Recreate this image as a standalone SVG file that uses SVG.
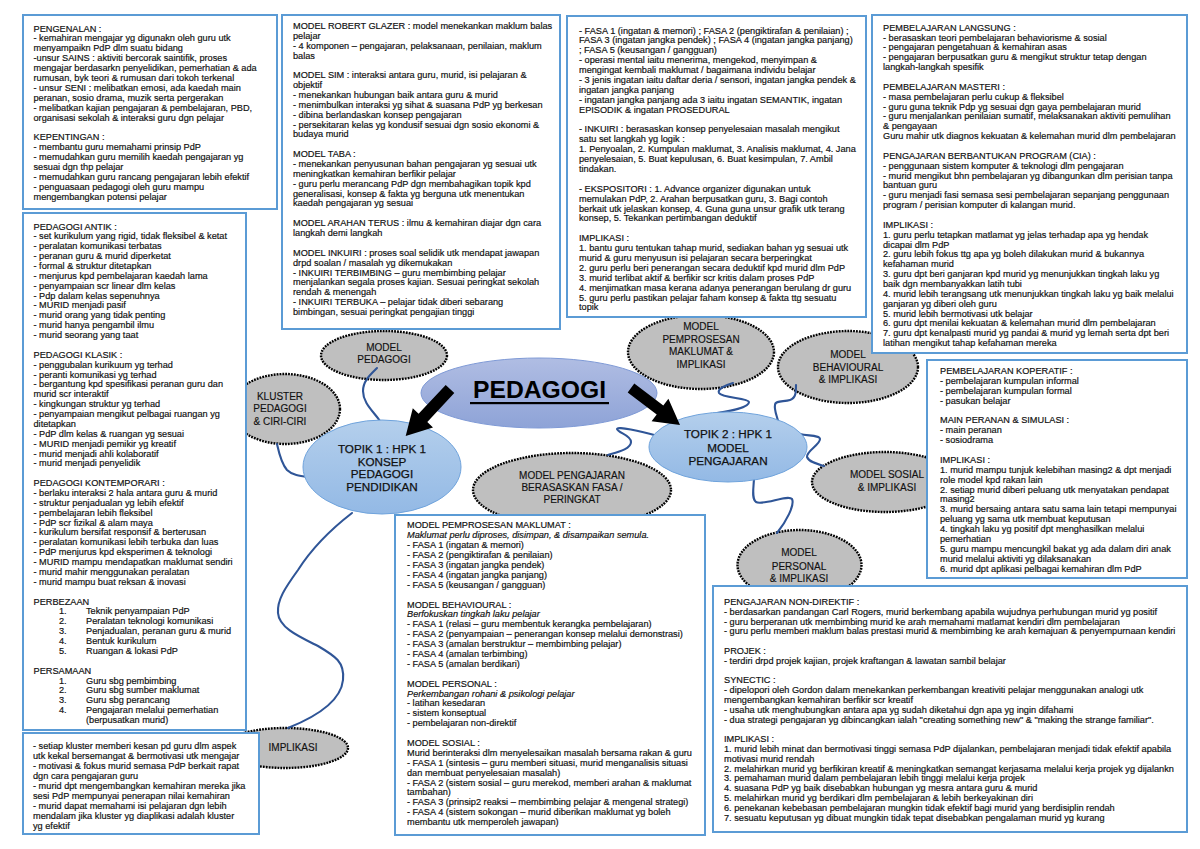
<svg xmlns="http://www.w3.org/2000/svg" width="1200" height="849" viewBox="0 0 1200 849">
<style>
text{font-family:"Liberation Sans",Arial,sans-serif;fill:#111}
.box{fill:#fff;stroke:#5b9bd5;stroke-width:2}
.t{font-size:9.2px;stroke:#111;stroke-width:.18}
.i{font-style:italic}
.m{fill:#bfbfbf;stroke:#000;stroke-width:2.4;stroke-dasharray:1.8 1.1}
.l{font-size:10px;text-anchor:middle;stroke:#111;stroke-width:.15}
.top{font-size:11.7px;text-anchor:middle;stroke:#111;stroke-width:.25}
.c{fill:none;stroke:#2f5597;stroke-width:2.1;stroke-linecap:round}
</style>
<defs>
<linearGradient id="g1" x1="0" y1="0" x2="0" y2="1"><stop offset="0" stop-color="#b0bde3"/><stop offset="1" stop-color="#8ea3d7"/></linearGradient>
<linearGradient id="g2" x1="0" y1="0" x2="0" y2="1"><stop offset="0" stop-color="#b4cfec"/><stop offset="1" stop-color="#93b9e5"/></linearGradient>
</defs>
<rect width="1200" height="849" fill="#fff"/>

<g id="node-kluster"><ellipse class="m" cx="285" cy="409" rx="55" ry="35"/><text class="l"><tspan x="280" y="400">KLUSTER</tspan><tspan x="280" y="412">PEDAGOGI</tspan><tspan x="280" y="425">&amp; CIRI-CIRI</tspan></text></g>
<g id="node-implikasi"><ellipse class="m" cx="285" cy="748" rx="63" ry="20"/><text class="l" x="293" y="751">IMPLIKASI</text></g>
<g id="node-model-pedagogi"><ellipse class="m" cx="384" cy="355.5" rx="63" ry="24.5"/><text class="l"><tspan x="384" y="351">MODEL</tspan><tspan x="384" y="363">PEDAGOGI</tspan></text></g>
<g id="node-pemprosesan"><ellipse class="m" cx="701" cy="352" rx="73" ry="37"/><text class="l"><tspan x="701" y="330">MODEL</tspan><tspan x="701" y="343">PEMPROSESAN</tspan><tspan x="701" y="355">MAKLUMAT &amp;</tspan><tspan x="701" y="368">IMPLIKASI</tspan></text></g>
<g id="node-behavioural"><ellipse class="m" cx="848" cy="367" rx="70" ry="36"/><text class="l"><tspan x="848" y="358">MODEL</tspan><tspan x="848" y="371">BEHAVIOURAL</tspan><tspan x="848" y="383">&amp; IMPLIKASI</tspan></text></g>
<g id="node-sosial"><ellipse class="m" cx="885" cy="482" rx="73" ry="30"/><text class="l"><tspan x="887" y="478">MODEL SOSIAL</tspan><tspan x="887" y="491">&amp; IMPLIKASI</tspan></text></g>
<g id="node-personal"><ellipse class="m" cx="799.5" cy="565" rx="62" ry="35"/><text class="l"><tspan x="799" y="556">MODEL</tspan><tspan x="799" y="570">PERSONAL</tspan><tspan x="799" y="582">&amp; IMPLIKASI</tspan></text></g>
<g id="node-pengajaran"><ellipse class="m" cx="572" cy="490" rx="99" ry="37"/><text class="l"><tspan x="572" y="479">MODEL PENGAJARAN</tspan><tspan x="572" y="491">BERASASKAN FASA /</tspan><tspan x="572" y="503">PERINGKAT</tspan></text></g>

<g id="connectors">
<path class="c" d="M377 368C370 375 363 381 363 391C363 403 373 411 380 421"/>
<path class="c" d="M277 444C279 453 281 463 287 470C292 475 300 476 308 477"/>
<path class="c" d="M352 513C330 530 312 548 298 570C285 588 277 600 278 613C279 628 300 637 318 646C335 656 345 662 343 680C341 700 318 716 288 728"/>
<path class="c" d="M608 455C618 452 631 449 631 442C631 435 618 433 617 429C617 426 640 431 658 436"/>
<path class="c" d="M733 383C726 385 717 389 719 393C722 398 748 398 749 402C749 408 730 411 717 413"/>
<path class="c" d="M796 385C796 392 796 398 790 400C784 402 775 400 775 405C774 410 777 416 778 421"/>
<path class="c" d="M800 434C808 436 820 435 820 439C820 445 806 451 807 457C809 462 817 464 824 466"/>
<path class="c" d="M754 477C754 487 751 498 756 502C763 506 788 494 792 499C795 505 786 522 777 533"/>
</g>

<g id="node-topik1"><ellipse cx="382" cy="467" rx="79" ry="47" fill="url(#g2)" stroke="#6fa3dc" stroke-width="1"/><text class="top"><tspan x="382" y="453">TOPIK 1 : HPK 1</tspan><tspan x="382" y="466">KONSEP</tspan><tspan x="382" y="478">PEDAGOGI</tspan><tspan x="382" y="491">PENDIDIKAN</tspan></text></g>
<g id="node-topik2"><ellipse cx="728" cy="447" rx="79" ry="35" fill="url(#g2)" stroke="#6fa3dc" stroke-width="1"/><text class="top"><tspan x="728" y="438">TOPIK 2 : HPK 1</tspan><tspan x="728" y="452">MODEL</tspan><tspan x="728" y="465">PENGAJARAN</tspan></text></g>
<g id="node-pedagogi"><ellipse cx="539" cy="393" rx="118" ry="35" fill="url(#g1)" stroke="#7f9ad6" stroke-width="1"/><text x="539.5" y="398" font-size="24.7" font-weight="700" text-anchor="middle" style="fill:#000">PEDAGOGI</text><rect x="470" y="402" width="139" height="2.2" fill="#000"/></g>
<g id="arrows" fill="#000">
<polygon points="454.3,393.1 427.3,422 433,427.5 405.7,436 412.8,408.3 418.6,413.8 445.7,384.9"/>
<polygon points="627.7,392.4 634.3,383.6 663.3,405.6 668.4,398.8 680,425 651.6,421.2 656.7,414.4"/>
</g>

<g id="box-pengenalan"><rect class="box" x="23" y="15" width="254" height="194"/>
<text class="t"><tspan x="33.5" y="31.5">PENGENALAN :</tspan><tspan x="33.5" dy="9.9">- kemahiran mengajar yg digunakn oleh guru utk</tspan><tspan x="33.5" dy="9.9">menyampaikn PdP dlm suatu bidang</tspan><tspan x="33.5" dy="9.9">-unsur SAINS : aktiviti bercorak saintifik, proses</tspan><tspan x="33.5" dy="9.9">mengajar berdasarkn penyelidikan, pemerhatian &amp; ada</tspan><tspan x="33.5" dy="9.9">rumusan, byk teori &amp;  rumusan dari tokoh terkenal</tspan><tspan x="33.5" dy="9.9">- unsur SENI : melibatkan emosi, ada kaedah main</tspan><tspan x="33.5" dy="9.9">peranan, sosio drama, muzik serta pergerakan</tspan><tspan x="33.5" dy="9.9">- melibatkan kajian pengajaran &amp; pembelajaran, PBD,</tspan><tspan x="33.5" dy="9.9">organisasi sekolah &amp; interaksi guru dgn pelajar</tspan><tspan x="33.5" dy="19.8">KEPENTINGAN :</tspan><tspan x="33.5" dy="9.9">- membantu guru memahami prinsip PdP</tspan><tspan x="33.5" dy="9.9">- memudahkan guru memilih kaedah pengajaran yg</tspan><tspan x="33.5" dy="9.9">sesuai dgn thp pelajar</tspan><tspan x="33.5" dy="9.9">- memudahkan guru rancang pengajaran lebih efektif</tspan><tspan x="33.5" dy="9.9">- penguasaan pedagogi oleh guru mampu</tspan><tspan x="33.5" dy="9.9">mengembangkan potensi pelajar</tspan></text></g>

<g id="box-pedagogi-antik"><rect class="box" x="23" y="213" width="223" height="517"/>
<text class="t"><tspan x="33.5" y="229.5">PEDAGOGI ANTIK :</tspan><tspan x="33.5" dy="9.87">- set kurikulum yang rigid, tidak fleksibel &amp; ketat</tspan><tspan x="33.5" dy="9.87">- peralatan komunikasi terbatas</tspan><tspan x="33.5" dy="9.87">- peranan guru &amp; murid diperketat</tspan><tspan x="33.5" dy="9.87">- formal &amp; struktur ditetapkan</tspan><tspan x="33.5" dy="9.87">- menjurus kpd pembelajaran kaedah lama</tspan><tspan x="33.5" dy="9.87">- penyampaian scr linear dlm kelas</tspan><tspan x="33.5" dy="9.87">- Pdp dalam kelas sepenuhnya</tspan><tspan x="33.5" dy="9.87">- MURID menjadi pasif</tspan><tspan x="33.5" dy="9.87">- murid orang yang tidak penting</tspan><tspan x="33.5" dy="9.87">- murid hanya pengambil ilmu</tspan><tspan x="33.5" dy="9.87">- murid seorang yang taat</tspan><tspan x="33.5" dy="19.74">PEDAGOGI KLASIK :</tspan><tspan x="33.5" dy="9.87">- penggubalan kurikuum yg terhad</tspan><tspan x="33.5" dy="9.87">- peranti komunikasi yg terhad</tspan><tspan x="33.5" dy="9.87">- bergantung kpd spesifikasi peranan guru dan</tspan><tspan x="33.5" dy="9.87">murid scr interaktif</tspan><tspan x="33.5" dy="9.87">- kingkungan struktur yg terhad</tspan><tspan x="33.5" dy="9.87">- penyampaian mengikut pelbagai ruangan yg</tspan><tspan x="33.5" dy="9.87">ditetapkan</tspan><tspan x="33.5" dy="9.87">- PdP dlm kelas &amp; ruangan yg sesuai</tspan><tspan x="33.5" dy="9.87">- MURID menjadi pemikir yg kreatif</tspan><tspan x="33.5" dy="9.87">- murid menjadi ahli kolaboratif</tspan><tspan x="33.5" dy="9.87">- murid menjadi penyelidik</tspan><tspan x="33.5" dy="19.74">PEDAGOGI KONTEMPORARI :</tspan><tspan x="33.5" dy="9.87">- berlaku interaksi 2 hala antara guru &amp; murid</tspan><tspan x="33.5" dy="9.87">- struktur penjadualan yg lebih efektif</tspan><tspan x="33.5" dy="9.87">- pembelajaran lebih fleksibel</tspan><tspan x="33.5" dy="9.87">- PdP scr fizikal &amp; alam maya</tspan><tspan x="33.5" dy="9.87">- kurikulum bersifat responsif &amp; berterusan</tspan><tspan x="33.5" dy="9.87">- peralatan komunikasi lebih terbuka dan luas</tspan><tspan x="33.5" dy="9.87">- PdP menjurus kpd eksperimen &amp; teknologi</tspan><tspan x="33.5" dy="9.87">- MURID mampu mendapatkan maklumat sendiri</tspan><tspan x="33.5" dy="9.87">- murid mahir menggunakan peralatan</tspan><tspan x="33.5" dy="9.87">- murid mampu buat reksan &amp; inovasi</tspan><tspan x="33.5" dy="19.74">PERBEZAAN</tspan><tspan x="59" dy="9.87">1.</tspan><tspan x="86">Teknik penyampaian PdP</tspan><tspan x="59" dy="9.87">2.</tspan><tspan x="86">Peralatan teknologi komunikasi</tspan><tspan x="59" dy="9.87">3.</tspan><tspan x="86">Penjadualan, peranan guru &amp; murid</tspan><tspan x="59" dy="9.87">4.</tspan><tspan x="86">Bentuk kurikulum</tspan><tspan x="59" dy="9.87">5.</tspan><tspan x="86">Ruangan &amp; lokasi PdP</tspan><tspan x="33.5" dy="19.74">PERSAMAAN</tspan><tspan x="59" dy="9.87">1.</tspan><tspan x="86">Guru sbg pembimbing</tspan><tspan x="59" dy="9.87">2.</tspan><tspan x="86">Guru sbg sumber maklumat</tspan><tspan x="59" dy="9.87">3.</tspan><tspan x="86">Guru sbg perancang</tspan><tspan x="59" dy="9.87">4.</tspan><tspan x="86">Pengajaran melalui pemerhatian</tspan><tspan x="86" dy="9.87">(berpusatkan murid)</tspan></text></g>

<g id="box-kesan"><rect class="box" x="23" y="733" width="236" height="101"/>
<text class="t"><tspan x="33" y="749">- setiap kluster memberi kesan pd guru dlm aspek</tspan><tspan x="33" dy="10">utk kekal bersemangat &amp; bermotivasi utk mengajar</tspan><tspan x="33" dy="10">- motivasi &amp; fokus murid semasa PdP berkait rapat</tspan><tspan x="33" dy="10">dgn cara pengajaran guru</tspan><tspan x="33" dy="10">- murid dpt mengembangkan kemahiran mereka jika</tspan><tspan x="33" dy="10">sesi PdP mempunyai penerapan nilai kemahiran</tspan><tspan x="33" dy="10">- murid dapat memahami isi pelajaran dgn lebih</tspan><tspan x="33" dy="10">mendalam jika kluster yg diaplikasi adalah kluster</tspan><tspan x="33" dy="10">yg efektif</tspan></text></g>

<g id="box-model-glazer"><rect class="box" x="282" y="15" width="278" height="314"/>
<text class="t"><tspan x="293" y="29">MODEL ROBERT GLAZER : model menekankan maklum balas</tspan><tspan x="293" dy="9.86">pelajar</tspan><tspan x="293" dy="9.86">- 4 komponen – pengajaran, pelaksanaan, penilaian, maklum</tspan><tspan x="293" dy="9.86">balas</tspan><tspan x="293" dy="19.72">MODEL SIM : interaksi antara guru, murid, isi pelajaran &amp;</tspan><tspan x="293" dy="9.86">objektif</tspan><tspan x="293" dy="9.86">- menekankan hubungan baik antara guru &amp; murid</tspan><tspan x="293" dy="9.86">- menimbulkan interaksi yg sihat &amp; suasana PdP yg berkesan</tspan><tspan x="293" dy="9.86">- dibina berlandaskan konsep pengajaran</tspan><tspan x="293" dy="9.86">- persekitaran kelas yg kondusif sesuai dgn sosio ekonomi &amp;</tspan><tspan x="293" dy="9.86">budaya murid</tspan><tspan x="293" dy="19.72">MODEL TABA :</tspan><tspan x="293" dy="9.86">- menekankan penyusunan bahan pengajaran yg sesuai utk</tspan><tspan x="293" dy="9.86">meningkatkan kemahiran berfikir pelajar</tspan><tspan x="293" dy="9.86">- guru perlu merancang PdP dgn membahagikan topik kpd</tspan><tspan x="293" dy="9.86">generalisasi, konsep &amp; fakta yg berguna utk menentukan</tspan><tspan x="293" dy="9.86">kaedah pengajaran yg sesuai</tspan><tspan x="293" dy="19.72">MODEL ARAHAN TERUS : ilmu &amp; kemahiran diajar dgn cara</tspan><tspan x="293" dy="9.86">langkah demi langkah</tspan><tspan x="293" dy="19.72">MODEL INKUIRI : proses soal selidik utk mendapat jawapan</tspan><tspan x="293" dy="9.86">drpd soalan / masalah yg dikemukakan</tspan><tspan x="293" dy="9.86">- INKUIRI TERBIMBING – guru membimbing pelajar</tspan><tspan x="293" dy="9.86">menjalankan segala proses kajian. Sesuai peringkat sekolah</tspan><tspan x="293" dy="9.86">rendah &amp; menengah</tspan><tspan x="293" dy="9.86">- INKUIRI TERBUKA – pelajar tidak diberi sebarang</tspan><tspan x="293" dy="9.86">bimbingan, sesuai peringkat pengajian tinggi</tspan></text></g>

<g id="box-fasa"><rect class="box" x="567" y="16" width="299" height="301"/>
<text class="t"><tspan x="579" y="33.5">- FASA 1 (ingatan &amp; memori) ; FASA 2 (pengiktirafan &amp; penilaian) ;</tspan><tspan x="579" dy="9.89">FASA 3 (ingatan jangka pendek) ; FASA 4 (ingatan jangka panjang)</tspan><tspan x="579" dy="9.89">; FASA 5 (keusangan / gangguan)</tspan><tspan x="579" dy="9.89">- operasi mental iaitu menerima, mengekod, menyimpan &amp;</tspan><tspan x="579" dy="9.89">mengingat kembali maklumat / bagaimana individu belajar</tspan><tspan x="579" dy="9.89">- 3 jenis ingatan iaitu daftar deria / sensori, ingatan jangka pendek &amp;</tspan><tspan x="579" dy="9.89">ingatan jangka panjang</tspan><tspan x="579" dy="9.89">- ingatan jangka panjang ada 3 iaitu ingatan SEMANTIK, ingatan</tspan><tspan x="579" dy="9.89">EPISODIK &amp; ingatan PROSEDURAL</tspan><tspan x="579" dy="19.78">- INKUIRI : berasaskan konsep penyelesaian masalah mengikut</tspan><tspan x="579" dy="9.89">satu set langkah yg logik :</tspan><tspan x="579" dy="9.89">1. Penyoalan, 2. Kumpulan maklumat, 3. Analisis maklumat, 4. Jana</tspan><tspan x="579" dy="9.89">penyelesaian, 5. Buat kepulusan, 6. Buat kesimpulan, 7. Ambil</tspan><tspan x="579" dy="9.89">tindakan.</tspan><tspan x="579" dy="19.78">- EKSPOSITORI : 1. Advance organizer digunakan untuk</tspan><tspan x="579" dy="9.89">memulakan PdP, 2. Arahan berpusatkan guru, 3. Bagi contoh</tspan><tspan x="579" dy="9.89">berkait utk jelaskan konsep, 4. Guna guna unsur grafik utk terang</tspan><tspan x="579" dy="9.89">konsep, 5. Tekankan pertimbangan deduktif</tspan><tspan x="579" dy="19.78">IMPLIKASI :</tspan><tspan x="579" dy="9.89">1. bantu guru tentukan tahap murid, sediakan bahan yg sesuai utk</tspan><tspan x="579" dy="9.89">murid &amp; guru menyusun isi pelajaran secara berperingkat</tspan><tspan x="579" dy="9.89">2. guru perlu beri penerangan secara deduktif kpd murid dlm PdP</tspan><tspan x="579" dy="9.89">3. murid terlibat aktif &amp; berfikir scr kritis dalam proses PdP</tspan><tspan x="579" dy="9.89">4. menjimatkan masa kerana adanya penerangan berulang dr guru</tspan><tspan x="579" dy="9.89">5. guru perlu pastikan pelajar faham konsep &amp; fakta ttg sesuatu</tspan><tspan x="579" dy="9.89">topik</tspan></text></g>

<g id="box-pembelajaran"><rect class="box" x="872" y="15" width="315" height="338"/>
<text class="t"><tspan x="883" y="30.7">PEMBELAJARAN LANGSUNG :</tspan><tspan x="883" dy="9.86">- berasaskan teori pembelajaran behaviorisme &amp; sosial</tspan><tspan x="883" dy="9.86">- pengajaran pengetahuan &amp; kemahiran asas</tspan><tspan x="883" dy="9.86">- pengajaran berpusatkan guru &amp; mengikut struktur tetap dengan</tspan><tspan x="883" dy="9.86">langkah-langkah spesifik</tspan><tspan x="883" dy="19.72">PEMBELAJARAN MASTERI :</tspan><tspan x="883" dy="9.86">- masa pembelajaran perlu cukup &amp; fleksibel</tspan><tspan x="883" dy="9.86">- guru guna teknik Pdp yg sesuai dgn gaya pembelajaran murid</tspan><tspan x="883" dy="9.86">- guru menjalankan penilaian sumatif, melaksanakan aktiviti pemulihan</tspan><tspan x="883" dy="9.86">&amp; pengayaan</tspan><tspan x="883" dy="9.86">Guru mahir utk diagnos kekuatan &amp; kelemahan murid dlm pembelajaran</tspan><tspan x="883" dy="19.72">PENGAJARAN BERBANTUKAN PROGRAM (CIA) :</tspan><tspan x="883" dy="9.86">- penggunaan sistem komputer &amp; teknologi dlm pengajaran</tspan><tspan x="883" dy="9.86">- murid mengikut bhn pembelajaran yg dibangunkan dlm perisian tanpa</tspan><tspan x="883" dy="9.86">bantuan guru</tspan><tspan x="883" dy="9.86">- guru menjadi fasi semasa sesi pembelajaran sepanjang penggunaan</tspan><tspan x="883" dy="9.86">program / perisian komputer di kalangan murid.</tspan><tspan x="883" dy="19.72">IMPLIKASI :</tspan><tspan x="883" dy="9.86">1. guru perlu tetapkan matlamat yg jelas terhadap apa yg hendak</tspan><tspan x="883" dy="9.86">dicapai dlm PdP</tspan><tspan x="883" dy="9.86">2. guru lebih fokus ttg apa yg boleh dilakukan murid &amp; bukannya</tspan><tspan x="883" dy="9.86">kefahaman murid</tspan><tspan x="883" dy="9.86">3. guru dpt beri ganjaran kpd murid yg menunjukkan tingkah laku yg</tspan><tspan x="883" dy="9.86">baik dgn membanyakkan latih tubi</tspan><tspan x="883" dy="9.86">4. murid lebih terangsang utk menunjukkan tingkah laku yg baik melalui</tspan><tspan x="883" dy="9.86">ganjaran yg diberi oleh guru</tspan><tspan x="883" dy="9.86">5. murid lebih bermotivasi utk belajar</tspan><tspan x="883" dy="9.86">6. guru dpt menilai kekuatan &amp; kelemahan murid dlm pembelajaran</tspan><tspan x="883" dy="9.86">7. guru dpt kenalpasti murid yg pandai &amp; murid yg lemah serta dpt beri</tspan><tspan x="883" dy="9.86">latihan mengikut tahap kefahaman mereka</tspan></text></g>

<g id="box-koperatif"><rect class="box" x="927" y="360" width="260" height="218"/>
<text class="t"><tspan x="940" y="374">PEMBELAJARAN KOPERATIF :</tspan><tspan x="940" dy="9.88">- pembelajaran kumpulan informal</tspan><tspan x="940" dy="9.88">- pembelajaran kumpulan formal</tspan><tspan x="940" dy="9.88">- pasukan belajar</tspan><tspan x="940" dy="19.76">MAIN PERANAN &amp; SIMULASI :</tspan><tspan x="940" dy="9.88">- main peranan</tspan><tspan x="940" dy="9.88">- sosiodrama</tspan><tspan x="940" dy="19.76">IMPLIKASI :</tspan><tspan x="940" dy="9.88">1. murid mampu tunjuk kelebihan masing2 &amp; dpt menjadi</tspan><tspan x="940" dy="9.88">role model kpd rakan lain</tspan><tspan x="940" dy="9.88">2. setiap murid diberi peluang utk menyatakan pendapat</tspan><tspan x="940" dy="9.88">masing2</tspan><tspan x="940" dy="9.88">3. murid bersaing antara satu sama lain tetapi mempunyai</tspan><tspan x="940" dy="9.88">peluang yg sama utk membuat keputusan</tspan><tspan x="940" dy="9.88">4. tingkah laku yg positif dpt menghasilkan melalui</tspan><tspan x="940" dy="9.88">pemerhatian</tspan><tspan x="940" dy="9.88">5. guru mampu mencungkil bakat yg ada dalam diri anak</tspan><tspan x="940" dy="9.88">murid melalui aktiviti yg dilaksanakan</tspan><tspan x="940" dy="9.88">6. murid dpt aplikasi pelbagai kemahiran dlm PdP</tspan></text></g>

<g id="box-model-fasa"><rect class="box" x="395" y="515" width="310" height="320"/>
<text class="t"><tspan x="407" y="528.4">MODEL PEMPROSESAN MAKLUMAT :</tspan><tspan class="i" x="407" dy="9.89">Maklumat perlu diproses, disimpan, &amp; disampaikan semula.</tspan><tspan x="407" dy="9.89">- FASA 1 (ingatan &amp; memori)</tspan><tspan x="407" dy="9.89">- FASA 2 (pengiktirafan &amp; penilaian)</tspan><tspan x="407" dy="9.89">- FASA 3 (ingatan jangka pendek)</tspan><tspan x="407" dy="9.89">- FASA 4 (ingatan jangka panjang)</tspan><tspan x="407" dy="9.89">- FASA 5 (keusangan / gangguan)</tspan><tspan x="407" dy="19.78">MODEL BEHAVIOURAL :</tspan><tspan class="i" x="407" dy="9.89">Berfokuskan tingkah laku pelajar</tspan><tspan x="407" dy="9.89">- FASA 1 (relasi – guru membentuk kerangka pembelajaran)</tspan><tspan x="407" dy="9.89">- FASA 2 (penyampaian – penerangan konsep melalui demonstrasi)</tspan><tspan x="407" dy="9.89">- FASA 3 (amalan berstruktur – membimbing pelajar)</tspan><tspan x="407" dy="9.89">- FASA 4 (amalan terbimbing)</tspan><tspan x="407" dy="9.89">- FASA 5 (amalan berdikari)</tspan><tspan x="407" dy="19.78">MODEL PERSONAL :</tspan><tspan class="i" x="407" dy="9.89">Perkembangan rohani &amp; psikologi pelajar</tspan><tspan x="407" dy="9.89">- latihan kesedaran</tspan><tspan x="407" dy="9.89">- sistem konseptual</tspan><tspan x="407" dy="9.89">- pembelajaran non-direktif</tspan><tspan x="407" dy="19.78">MODEL SOSIAL :</tspan><tspan x="407" dy="9.89">Murid berinteraksi dlm menyelesaikan masalah bersama rakan &amp; guru</tspan><tspan x="407" dy="9.89">- FASA 1 (sintesis – guru memberi situasi, murid menganalisis situasi</tspan><tspan x="407" dy="9.89">dan membuat penyelesaian masalah)</tspan><tspan x="407" dy="9.89">- FASA 2 (sistem sosial – guru merekod, memberi arahan &amp; maklumat</tspan><tspan x="407" dy="9.89">tambahan)</tspan><tspan x="407" dy="9.89">- FASA 3 (prinsip2 reaksi – membimbing pelajar &amp; mengenal strategi)</tspan><tspan x="407" dy="9.89">- FASA 4 (sistem sokongan – murid diberikan maklumat yg boleh</tspan><tspan x="407" dy="9.89">membantu utk memperoleh jawapan)</tspan></text></g>

<g id="box-non-direktif"><rect class="box" x="713" y="586" width="474" height="246"/>
<text class="t"><tspan x="724" y="605">PENGAJARAN NON-DIREKTIF :</tspan><tspan x="724" dy="9.8">- berdasarkan pandangan Carl Rogers, murid berkembang apabila wujudnya perhubungan murid yg positif</tspan><tspan x="724" dy="9.8">- guru berperanan utk membimbing murid ke arah memahami matlamat kendiri dlm pembelajaran</tspan><tspan x="724" dy="9.8">- guru perlu memberi maklum balas prestasi murid &amp; membimbing ke arah kemajuan &amp; penyempurnaan kendiri</tspan><tspan x="724" dy="19.6">PROJEK :</tspan><tspan x="724" dy="9.8">- terdiri drpd projek kajian, projek kraftangan &amp; lawatan sambil belajar</tspan><tspan x="724" dy="19.6">SYNECTIC :</tspan><tspan x="724" dy="9.8">- dipelopori oleh Gordon dalam menekankan perkembangan kreativiti pelajar menggunakan analogi utk</tspan><tspan x="724" dy="9.8">mengembangkan kemahiran berfikir scr kreatif</tspan><tspan x="724" dy="9.8">- usaha utk menghubungkan antara apa yg sudah diketahui dgn apa yg ingin difahami</tspan><tspan x="724" dy="9.8">- dua strategi pengajaran yg dibincangkan ialah "creating something new" &amp; "making the strange familiar".</tspan><tspan x="724" dy="19.6">IMPLIKASI :</tspan><tspan x="724" dy="9.8">1. murid lebih minat dan bermotivasi tinggi semasa PdP dijalankan, pembelajaran menjadi tidak efektif apabila</tspan><tspan x="724" dy="9.8">motivasi murid rendah</tspan><tspan x="724" dy="9.8">2. melahirkan murid yg berfikiran kreatif &amp; meningkatkan semangat kerjasama melalui kerja projek yg dijalankn</tspan><tspan x="724" dy="9.8">3. pemahaman murid dalam pembelajaran lebih tinggi melalui kerja projek</tspan><tspan x="724" dy="9.8">4. suasana PdP yg baik disebabkan hubungan yg mesra antara guru &amp; murid</tspan><tspan x="724" dy="9.8">5. melahirkan murid yg berdikari dlm pembelajaran &amp; lebih berkeyakinan diri</tspan><tspan x="724" dy="9.8">6. penekanan kebebasan pembelajaran mungkin tidak efektif bagi murid yang berdisiplin rendah</tspan><tspan x="724" dy="9.8">7. sesuatu keputusan yg dibuat mungkin tidak tepat disebabkan pengalaman murid yg kurang</tspan></text></g>
</svg>
